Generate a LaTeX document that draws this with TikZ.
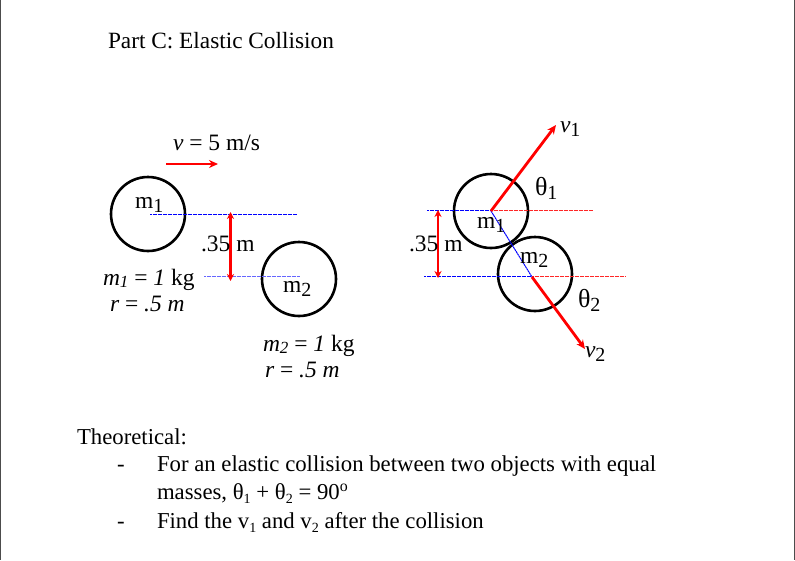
\documentclass[tikz,border=0pt]{standalone}
\usepackage{fontspec}
\usetikzlibrary{arrows.meta}
\setmainfont{Liberation Serif}
\newcommand{\lbl}[1]{\raisebox{-.2em}{\fontsize{20}{20}\selectfont #1}}
\newcommand{\smallsub}[1]{\raisebox{-.2em}{\fontsize{14}{14}\selectfont #1}}
\newcommand{\midsub}[1]{\raisebox{-.12em}{\fontsize{17}{17}\selectfont #1}}
\newcommand{\bigth}{{\fontsize{26}{26}\selectfont θ}}
\begin{document}
\begin{tikzpicture}[x=1pt,y=-1pt,inner sep=0pt,outer sep=0pt,
ball/.style={draw,circle,minimum size=74pt,line width=2.6pt},
txt/.style={anchor=base west,font=\fontsize{23.5}{23.5}\selectfont},
body/.style={anchor=base west,font=\fontsize{22.75}{22.75}\selectfont},
redarrow/.style={red,line width=2.8pt,-{Stealth[length=9pt,width=8pt]}},
span/.style={red,line width=2.8pt,{Stealth[length=7pt,width=7pt]}-{Stealth[length=7pt,width=7pt]}},
blueline/.style={blue,line width=1pt,dash pattern=on 2pt off .5pt},
redline/.style={red!85!white,line width=1pt,dash pattern=on 2pt off .5pt}]
\useasboundingbox (0,0) rectangle (795,560);
\draw[black!70,line width=1.2pt] (.5,0) -- (.5,560);
\draw[black!70,line width=1.2pt] (794.5,0) -- (794.5,560);
\node[txt,font=\fontsize{23.3}{23.3}\selectfont] (title) at (108,48) {Part C: Elastic Collision};
% before the collision
\node[txt] (speed) at (173,150) {\textit{v} = 5 m/s};
\coordinate (vL) at (166,164);
\coordinate (vR) at (218,164);
\draw[redarrow,line width=2.4pt] (vL) -- (vR);
\node[ball] (ballA) at (148,214) {};
\node[ball] (ballB) at (299,279) {};
\node[txt] (labelA) at (135,208) {m\lbl{1}};
\node[txt] (labelB) at (283,292) {m\lbl{2}};
\coordinate (lineA1) at (150,214.5);
\coordinate (lineA2) at (297,214.5);
\coordinate (lineB1) at (204,276.5);
\coordinate (lineB2) at (300,276.5);
\draw[blueline] (lineA1) -- (lineA2);
\draw[blueline,blue!60!white] (lineB1) -- (lineB2);
\coordinate (gapT) at (230.5,212);
\coordinate (gapB) at (230.5,281);
\draw[span] (gapT) -- (gapB);
\node[txt] (gap) at (201,251) {.35 m};
\node[txt] (massA) at (103,285) {\textit{m\midsub{1}} = \textit{1} kg};
\node[txt] (radA) at (110,311) {\textit{r} = \textit{.5 m}};
\node[txt] (massB) at (263,351) {\textit{m\midsub{2}} = \textit{1} kg};
\node[txt] (radB) at (265,377) {\textit{r} = \textit{.5 m}};
% after the collision
\node[ball] (ballC) at (491,211) {};
\node[ball] (ballD) at (535,274) {};
\coordinate (hitC) at (491,211);
\coordinate (hitD) at (532,277);
\coordinate (endC) at (556,125);
\coordinate (endD) at (585,349);
\coordinate (blueC) at (427,210.5);
\coordinate (blueD) at (424,276.5);
\coordinate (blueE) at (491,210.5);
\coordinate (blueF) at (532,276.5);
\coordinate (redC) at (593,210.5);
\coordinate (redD) at (626,276.5);
\draw[blueline] (blueC) -- (blueE);
\draw[blueline] (blueD) -- (blueF);
\draw[redline] (blueE) -- (redC);
\draw[redline] (blueF) -- (redD);
\draw[blueline] (hitC) -- (hitD);
\draw[redarrow] (hitC) -- (endC);
\draw[redarrow] (hitD) -- (endD);
\coordinate (sepT) at (438,210);
\coordinate (sepB) at (438,278);
\draw[span] (sepT) -- (sepB);
\node[txt] (sep) at (409,251) {.35 m};
\node[txt] (labelC) at (477,228) {m\lbl{1}};
\node[txt] (labelD) at (520,263) {m\lbl{2}};
\node[txt] (velC) at (560,132) {\textit{v}\lbl{1}};
\node[txt] (velD) at (585,357) {\textit{v}\lbl{2}};
\node[txt] (angC) at (535,195) {\bigth\lbl{1}};
\node[txt] (angD) at (578,307) {\bigth\lbl{2}};
% text below
\node[body] (theory) at (77,444) {Theoretical:};
\node[body] (dashA) at (117,471) {-};
\node[body] (lineA) at (157,471) {For an elastic collision between two objects with equal};
\node[body] (lineB) at (157,499) {masses, θ\smallsub{1} + θ\smallsub{2} = 90\textsuperscript{o}};
\node[body] (dashB) at (117,528) {-};
\node[body] (lineC) at (157,528) {Find the v\smallsub{1} and v\smallsub{2} after the collision};
\end{tikzpicture}
\end{document}
